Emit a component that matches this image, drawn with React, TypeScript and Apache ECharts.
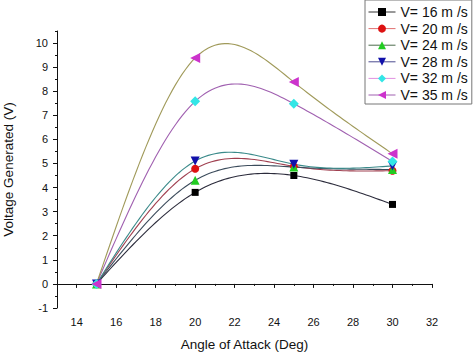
import React, { useEffect, useRef } from "react";
import * as echarts from "echarts";

const angles = [15, 20, 25, 30];
const seriesNames = ["V= 16 m /s", "V= 20 m /s", "V= 24 m /s", "V= 28 m /s", "V= 32 m /s", "V= 35 m /s"];
const v16 = [0, 3.8, 4.5, 3.3];
const v20 = [0, 4.78, 4.88, 4.7];
const v24 = [0, 4.3, 4.85, 4.75];
const v28 = [0, 5.1, 4.97, 4.9];
const v32 = [0, 7.58, 7.48, 5.08];
const v35 = [0, 9.38, 8.38, 5.4];
const xMajorTicks = [14, 16, 18, 20, 22, 24, 26, 28, 30, 32];
const xMinorTicks = [13, 15, 17, 19, 21, 23, 25, 27, 29, 31];
const yMajorTicks = [-1, 0, 1, 2, 3, 4, 5, 6, 7, 8, 9, 10];
const yMinorTicks = [-0.5, 0.5, 1.5, 2.5, 3.5, 4.5, 5.5, 6.5, 7.5, 8.5, 9.5, 10.5];

const allValues = [v16, v20, v24, v28, v32, v35];
const markerColors = ["#000000", "#dd1111", "#22cc22", "#1111aa", "#33e6e6", "#cc33cc"];
const curveColors = ["#2c2c3c", "#a04050", "#3c4c5c", "#3a8a8a", "#a060b0", "#a09a5a"];
const legendLineColors = ["#333333", "#e07070", "#4c6c4c", "#4c4c90", "#e090e0", "#a060b0"];
const symbols = ["rect", "circle", "triangle", "triangle", "diamond", "triangle"];
const symbolRotates = [0, 0, 0, 180, 0, 90];
const symbolSizes = [7, 8, 9, 9, 10, 10];

const FONT = "Liberation Sans, Arial, sans-serif";

function secondDerivs(xs: number[], ys: number[]): number[] {
  const n = xs.length;
  const M = new Array(n).fill(0);
  if (n < 3) return M;
  const a: number[] = [], b: number[] = [], c: number[] = [], d: number[] = [];
  for (let i = 1; i < n - 1; i++) {
    const h0 = xs[i] - xs[i - 1];
    const h1 = xs[i + 1] - xs[i];
    a.push(h0);
    b.push(2 * (h0 + h1));
    c.push(h1);
    d.push(6 * ((ys[i + 1] - ys[i]) / h1 - (ys[i] - ys[i - 1]) / h0));
  }
  const m = b.length;
  for (let i = 1; i < m; i++) {
    const w = a[i] / b[i - 1];
    b[i] -= w * c[i - 1];
    d[i] -= w * d[i - 1];
  }
  const sol = new Array(m).fill(0);
  sol[m - 1] = d[m - 1] / b[m - 1];
  for (let i = m - 2; i >= 0; i--) sol[i] = (d[i] - c[i] * sol[i + 1]) / b[i];
  for (let i = 0; i < m; i++) M[i + 1] = sol[i];
  return M;
}

function evalSeg(xs: number[], ys: number[], M: number[], i: number, x: number): number {
  const x0 = xs[i], x1 = xs[i + 1];
  const h = x1 - x0;
  return (
    (M[i] * Math.pow(x1 - x, 3)) / (6 * h) +
    (M[i + 1] * Math.pow(x - x0, 3)) / (6 * h) +
    (ys[i] / h - (M[i] * h) / 6) * (x1 - x) +
    (ys[i + 1] / h - (M[i + 1] * h) / 6) * (x - x0)
  );
}

export default function App() {
  const ref = useRef<HTMLDivElement>(null);
  useEffect(() => {
    if (!ref.current) return;
    const chart = echarts.init(ref.current, null, { renderer: "svg" });

    const curveSeries = allValues.map((ys, si) => {
      const M = secondDerivs(angles, ys);
      return {
        type: "custom",
        name: "curve" + si,
        xAxisIndex: 0,
        yAxisIndex: 0,
        z: 2,
        silent: true,
        encode: { x: 0, y: 1 },
        data: angles.map((a, i) => [a, ys[i]]),
        renderItem: (params: any, api: any) => {
          const i = params.dataIndex;
          if (i >= angles.length - 1) return null;
          const pts: number[][] = [];
          const steps = 30;
          for (let k = 0; k <= steps; k++) {
            const x = angles[i] + ((angles[i + 1] - angles[i]) * k) / steps;
            pts.push(api.coord([x, evalSeg(angles, ys, M, i, x)]));
          }
          return {
            type: "polyline",
            shape: { points: pts },
            style: { stroke: curveColors[si], lineWidth: 1.1, fill: null },
          };
        },
      };
    });

    const markerSeries = allValues.map((ys, si) => ({
      type: "line",
      name: seriesNames[si],
      xAxisIndex: 0,
      yAxisIndex: 0,
      z: 5,
      data: angles.map((a, i) => [a, ys[i]]),
      symbol: symbols[si],
      symbolRotate: symbolRotates[si],
      symbolSize: symbolSizes[si],
      showSymbol: true,
      itemStyle: { color: markerColors[si] },
      lineStyle: { opacity: 0, width: 0 },
    }));

    const axisLineStyle = { color: "#111", width: 1 };

    chart.setOption({
      animation: false,
      backgroundColor: "#ffffff",
      grid: { left: 57, top: 31, width: 375, height: 277, outerBoundsMode: "none", containLabel: false },
      legend: {
        orient: "vertical",
        left: 365,
        top: 0,
        padding: [5, 4, 2, 3],
        itemWidth: 27,
        itemHeight: 10,
        itemGap: 2.6,
        borderColor: "#777",
        borderWidth: 1,
        backgroundColor: "#fff",
        textStyle: { fontSize: 14, fontFamily: FONT, color: "#111", lineHeight: 14 },
        data: seriesNames.map((n, i) => ({
          name: n,
          lineStyle: { color: legendLineColors[i], width: 1, opacity: 1 },
        })),
      },
      xAxis: [
        {
          type: "value",
          min: 13,
          max: 32,
          position: "bottom",
          name: "Angle of Attack (Deg)",
          nameLocation: "middle",
          nameGap: 29,
          nameTextStyle: { fontSize: 13.5, fontFamily: FONT, color: "#111" },
          axisLine: { show: true, lineStyle: axisLineStyle },
          axisTick: { show: true, length: 4, customValues: xMajorTicks, lineStyle: axisLineStyle },
          axisLabel: { customValues: xMajorTicks, margin: 8, fontSize: 11, fontFamily: FONT, color: "#111" },
          splitLine: { show: false },
        },
        {
          type: "value",
          min: 13,
          max: 32,
          position: "bottom",
          offset: 0,
          axisLine: { show: false },
          axisTick: { show: true, length: 2, customValues: xMinorTicks, lineStyle: axisLineStyle },
          axisLabel: { show: false },
          splitLine: { show: false },
        },
      ],
      yAxis: [
        {
          type: "value",
          min: -1,
          max: 10.5,
          position: "left",
          name: "Voltage Generated (V)",
          nameLocation: "middle",
          nameGap: 42,
          nameTextStyle: { fontSize: 13.5, fontFamily: FONT, color: "#111" },
          axisLine: { show: true, lineStyle: axisLineStyle },
          axisTick: { show: true, length: 4, customValues: yMajorTicks, lineStyle: axisLineStyle },
          axisLabel: { customValues: yMajorTicks, margin: 9, fontSize: 11, fontFamily: FONT, color: "#111" },
          splitLine: { show: false },
        },
        {
          type: "value",
          min: -1,
          max: 10.5,
          position: "left",
          offset: 0,
          axisLine: { show: false },
          axisTick: { show: true, length: 2, customValues: yMinorTicks, lineStyle: axisLineStyle },
          axisLabel: { show: false },
          splitLine: { show: false },
        },
      ],
      series: [...curveSeries, ...markerSeries],
    } as any);

    return () => chart.dispose();
  }, []);

  return (
    <div
      ref={ref}
      style={{ position: "fixed", left: 0, top: 0, width: 474, height: 357, background: "#fff" }}
    />
  );
}
